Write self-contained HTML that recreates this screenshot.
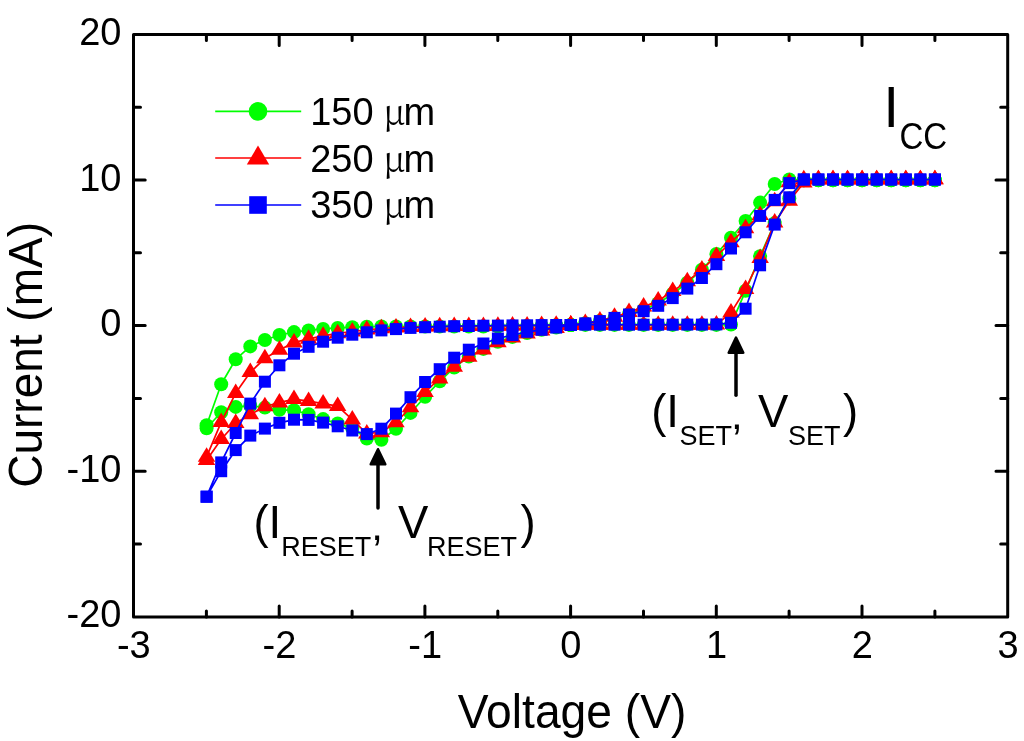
<!DOCTYPE html>
<html lang="en">
<head>
<meta charset="utf-8">
<title>I-V characteristics</title>
<style>html,body{margin:0;padding:0;background:#fff}body{width:1024px;height:741px;overflow:hidden}svg{display:block}</style>
</head>
<body>
<svg width="1024" height="741" viewBox="0 0 1024 741" font-family="'Liberation Sans', sans-serif" fill="#000">
<rect width="1024" height="741" fill="#fff"/>
<g id="series-150"><polyline points="570.8,325.0 585.3,324.9 599.9,324.9 614.5,324.9 629.0,324.9 643.6,324.9 658.2,324.9 672.7,324.9 687.3,324.9 701.9,324.9 716.4,324.9 731.0,324.6 745.6,290.8 760.1,256.2 774.7,223.1 789.3,198.4 803.8,180.2 818.4,180.2 833.0,180.2 847.5,180.2 862.1,180.2 876.7,180.2 891.2,180.2 905.8,180.2 920.4,180.2 934.9,180.2 934.9,180.2 920.4,180.2 905.8,180.2 891.2,180.2 876.7,180.2 862.1,180.2 847.5,180.2 833.0,180.2 818.4,180.2 803.8,180.2 789.3,179.5 774.7,184.0 760.1,202.6 745.6,221.0 731.0,237.7 716.4,253.9 701.9,269.7 687.3,282.8 672.7,293.7 658.2,303.2 643.6,309.7 629.0,313.9 614.5,318.0 599.9,320.9 585.3,323.3 570.8,325.0 570.8,325.0 556.2,327.6 541.6,329.8 527.1,333.0 512.5,336.9 497.9,341.7 483.4,348.9 468.8,356.6 454.2,367.6 439.7,381.3 425.1,396.7 410.5,412.9 396.0,428.7 381.4,439.7 366.8,438.5 352.3,428.3 337.7,423.5 323.1,419.1 308.6,414.3 294.0,410.3 279.4,409.8 264.9,407.6 250.3,405.8 235.7,406.9 221.2,412.3 206.6,428.2 206.6,425.2 221.2,384.2 235.7,359.3 250.3,346.4 264.9,340.0 279.4,335.0 294.0,332.1 308.6,330.4 323.1,328.9 337.7,327.9 352.3,327.2 366.8,326.7 381.4,326.5 396.0,326.5 410.5,326.5 425.1,326.5 439.7,326.5 454.2,326.5 468.8,326.5 483.4,326.5 497.9,326.5 512.5,326.2 527.1,325.9 541.6,325.6 556.2,325.3 570.8,325.0" fill="none" stroke="#00ff00" stroke-width="1.7" stroke-linejoin="round"/><g fill="#00ff00"><circle cx="570.8" cy="325.0" r="7"/><circle cx="585.3" cy="324.9" r="7"/><circle cx="599.9" cy="324.9" r="7"/><circle cx="614.5" cy="324.9" r="7"/><circle cx="629.0" cy="324.9" r="7"/><circle cx="643.6" cy="324.9" r="7"/><circle cx="658.2" cy="324.9" r="7"/><circle cx="672.7" cy="324.9" r="7"/><circle cx="687.3" cy="324.9" r="7"/><circle cx="701.9" cy="324.9" r="7"/><circle cx="716.4" cy="324.9" r="7"/><circle cx="731.0" cy="324.6" r="7"/><circle cx="745.6" cy="290.8" r="7"/><circle cx="760.1" cy="256.2" r="7"/><circle cx="774.7" cy="223.1" r="7"/><circle cx="789.3" cy="198.4" r="7"/><circle cx="803.8" cy="180.2" r="7"/><circle cx="818.4" cy="180.2" r="7"/><circle cx="833.0" cy="180.2" r="7"/><circle cx="847.5" cy="180.2" r="7"/><circle cx="862.1" cy="180.2" r="7"/><circle cx="876.7" cy="180.2" r="7"/><circle cx="891.2" cy="180.2" r="7"/><circle cx="905.8" cy="180.2" r="7"/><circle cx="920.4" cy="180.2" r="7"/><circle cx="934.9" cy="180.2" r="7"/><circle cx="934.9" cy="180.2" r="7"/><circle cx="920.4" cy="180.2" r="7"/><circle cx="905.8" cy="180.2" r="7"/><circle cx="891.2" cy="180.2" r="7"/><circle cx="876.7" cy="180.2" r="7"/><circle cx="862.1" cy="180.2" r="7"/><circle cx="847.5" cy="180.2" r="7"/><circle cx="833.0" cy="180.2" r="7"/><circle cx="818.4" cy="180.2" r="7"/><circle cx="803.8" cy="180.2" r="7"/><circle cx="789.3" cy="179.5" r="7"/><circle cx="774.7" cy="184.0" r="7"/><circle cx="760.1" cy="202.6" r="7"/><circle cx="745.6" cy="221.0" r="7"/><circle cx="731.0" cy="237.7" r="7"/><circle cx="716.4" cy="253.9" r="7"/><circle cx="701.9" cy="269.7" r="7"/><circle cx="687.3" cy="282.8" r="7"/><circle cx="672.7" cy="293.7" r="7"/><circle cx="658.2" cy="303.2" r="7"/><circle cx="643.6" cy="309.7" r="7"/><circle cx="629.0" cy="313.9" r="7"/><circle cx="614.5" cy="318.0" r="7"/><circle cx="599.9" cy="320.9" r="7"/><circle cx="585.3" cy="323.3" r="7"/><circle cx="570.8" cy="325.0" r="7"/><circle cx="570.8" cy="325.0" r="7"/><circle cx="556.2" cy="327.6" r="7"/><circle cx="541.6" cy="329.8" r="7"/><circle cx="527.1" cy="333.0" r="7"/><circle cx="512.5" cy="336.9" r="7"/><circle cx="497.9" cy="341.7" r="7"/><circle cx="483.4" cy="348.9" r="7"/><circle cx="468.8" cy="356.6" r="7"/><circle cx="454.2" cy="367.6" r="7"/><circle cx="439.7" cy="381.3" r="7"/><circle cx="425.1" cy="396.7" r="7"/><circle cx="410.5" cy="412.9" r="7"/><circle cx="396.0" cy="428.7" r="7"/><circle cx="381.4" cy="439.7" r="7"/><circle cx="366.8" cy="438.5" r="7"/><circle cx="352.3" cy="428.3" r="7"/><circle cx="337.7" cy="423.5" r="7"/><circle cx="323.1" cy="419.1" r="7"/><circle cx="308.6" cy="414.3" r="7"/><circle cx="294.0" cy="410.3" r="7"/><circle cx="279.4" cy="409.8" r="7"/><circle cx="264.9" cy="407.6" r="7"/><circle cx="250.3" cy="405.8" r="7"/><circle cx="235.7" cy="406.9" r="7"/><circle cx="221.2" cy="412.3" r="7"/><circle cx="206.6" cy="428.2" r="7"/><circle cx="206.6" cy="425.2" r="7"/><circle cx="221.2" cy="384.2" r="7"/><circle cx="235.7" cy="359.3" r="7"/><circle cx="250.3" cy="346.4" r="7"/><circle cx="264.9" cy="340.0" r="7"/><circle cx="279.4" cy="335.0" r="7"/><circle cx="294.0" cy="332.1" r="7"/><circle cx="308.6" cy="330.4" r="7"/><circle cx="323.1" cy="328.9" r="7"/><circle cx="337.7" cy="327.9" r="7"/><circle cx="352.3" cy="327.2" r="7"/><circle cx="366.8" cy="326.7" r="7"/><circle cx="381.4" cy="326.5" r="7"/><circle cx="396.0" cy="326.5" r="7"/><circle cx="410.5" cy="326.5" r="7"/><circle cx="425.1" cy="326.5" r="7"/><circle cx="439.7" cy="326.5" r="7"/><circle cx="454.2" cy="326.5" r="7"/><circle cx="468.8" cy="326.5" r="7"/><circle cx="483.4" cy="326.5" r="7"/><circle cx="497.9" cy="326.5" r="7"/><circle cx="512.5" cy="326.2" r="7"/><circle cx="527.1" cy="325.9" r="7"/><circle cx="541.6" cy="325.6" r="7"/><circle cx="556.2" cy="325.3" r="7"/><circle cx="570.8" cy="325.0" r="7"/></g></g>
<g id="series-250"><polyline points="570.8,325.0 585.3,325.0 599.9,325.0 614.5,325.0 629.0,325.0 643.6,325.0 658.2,325.0 672.7,325.0 687.3,325.0 701.9,325.0 716.4,324.7 731.0,312.6 745.6,289.2 760.1,258.1 774.7,222.7 789.3,200.9 803.8,182.7 818.4,179.5 833.0,179.5 847.5,179.5 862.1,179.5 876.7,179.5 891.2,179.5 905.8,179.5 920.4,179.5 934.9,179.5 934.9,179.5 920.4,179.5 905.8,179.5 891.2,179.5 876.7,179.5 862.1,179.5 847.5,179.5 833.0,179.5 818.4,179.5 803.8,179.5 789.3,182.4 774.7,201.3 760.1,215.1 745.6,228.4 731.0,242.4 716.4,256.0 701.9,269.7 687.3,281.4 672.7,291.1 658.2,300.7 643.6,306.8 629.0,312.2 614.5,317.0 599.9,320.6 585.3,323.1 570.8,325.0 570.8,325.0 556.2,328.1 541.6,330.5 527.1,333.7 512.5,337.7 497.9,342.5 483.4,349.6 468.8,357.0 454.2,366.9 439.7,378.5 425.1,392.1 410.5,407.5 396.0,422.5 381.4,432.4 366.8,433.5 352.3,419.6 337.7,406.2 323.1,403.6 308.6,401.2 294.0,399.2 279.4,402.6 264.9,406.5 250.3,414.5 235.7,423.2 221.2,439.2 206.6,460.3 206.6,456.8 221.2,422.2 235.7,393.1 250.3,372.3 264.9,358.3 279.4,349.9 294.0,342.6 308.6,338.8 323.1,335.9 337.7,333.4 352.3,331.5 366.8,329.8 381.4,328.5 396.0,327.6 410.5,327.0 425.1,326.7 439.7,326.5 454.2,326.3 468.8,326.2 483.4,326.0 497.9,325.9 512.5,325.7 527.1,325.6 541.6,325.3 556.2,325.0 570.8,325.0" fill="none" stroke="#ff0000" stroke-width="1.7" stroke-linejoin="round"/><g fill="#ff0000"><path d="M570.8 315.3L579.5 329.8L562.0 329.8Z"/><path d="M585.3 315.3L594.1 329.8L576.6 329.8Z"/><path d="M599.9 315.3L608.6 329.8L591.1 329.8Z"/><path d="M614.5 315.3L623.2 329.8L605.7 329.8Z"/><path d="M629.0 315.3L637.8 329.8L620.3 329.8Z"/><path d="M643.6 315.3L652.3 329.8L634.8 329.8Z"/><path d="M658.2 315.3L666.9 329.8L649.4 329.8Z"/><path d="M672.7 315.3L681.5 329.8L664.0 329.8Z"/><path d="M687.3 315.3L696.0 329.8L678.5 329.8Z"/><path d="M701.9 315.3L710.6 329.8L693.1 329.8Z"/><path d="M716.4 315.0L725.2 329.5L707.7 329.5Z"/><path d="M731.0 303.0L739.7 317.5L722.2 317.5Z"/><path d="M745.6 279.5L754.3 294.0L736.8 294.0Z"/><path d="M760.1 248.4L768.9 262.9L751.4 262.9Z"/><path d="M774.7 213.0L783.4 227.5L765.9 227.5Z"/><path d="M789.3 191.2L798.0 205.7L780.5 205.7Z"/><path d="M803.8 173.0L812.6 187.5L795.1 187.5Z"/><path d="M818.4 169.8L827.1 184.3L809.6 184.3Z"/><path d="M833.0 169.8L841.7 184.3L824.2 184.3Z"/><path d="M847.5 169.8L856.3 184.3L838.8 184.3Z"/><path d="M862.1 169.8L870.8 184.3L853.3 184.3Z"/><path d="M876.7 169.8L885.4 184.3L867.9 184.3Z"/><path d="M891.2 169.8L900.0 184.3L882.5 184.3Z"/><path d="M905.8 169.8L914.6 184.3L897.1 184.3Z"/><path d="M920.4 169.8L929.1 184.3L911.6 184.3Z"/><path d="M934.9 169.8L943.7 184.3L926.2 184.3Z"/><path d="M934.9 169.8L943.7 184.3L926.2 184.3Z"/><path d="M920.4 169.8L929.1 184.3L911.6 184.3Z"/><path d="M905.8 169.8L914.6 184.3L897.1 184.3Z"/><path d="M891.2 169.8L900.0 184.3L882.5 184.3Z"/><path d="M876.7 169.8L885.4 184.3L867.9 184.3Z"/><path d="M862.1 169.8L870.8 184.3L853.3 184.3Z"/><path d="M847.5 169.8L856.3 184.3L838.8 184.3Z"/><path d="M833.0 169.8L841.7 184.3L824.2 184.3Z"/><path d="M818.4 169.8L827.1 184.3L809.6 184.3Z"/><path d="M803.8 169.8L812.6 184.3L795.1 184.3Z"/><path d="M789.3 172.7L798.0 187.2L780.5 187.2Z"/><path d="M774.7 191.7L783.4 206.2L765.9 206.2Z"/><path d="M760.1 205.5L768.9 220.0L751.4 220.0Z"/><path d="M745.6 218.7L754.3 233.2L736.8 233.2Z"/><path d="M731.0 232.7L739.7 247.2L722.2 247.2Z"/><path d="M716.4 246.4L725.2 260.9L707.7 260.9Z"/><path d="M701.9 260.0L710.6 274.5L693.1 274.5Z"/><path d="M687.3 271.7L696.0 286.2L678.5 286.2Z"/><path d="M672.7 281.4L681.5 295.9L664.0 295.9Z"/><path d="M658.2 291.0L666.9 305.5L649.4 305.5Z"/><path d="M643.6 297.1L652.3 311.6L634.8 311.6Z"/><path d="M629.0 302.5L637.8 317.0L620.3 317.0Z"/><path d="M614.5 307.3L623.2 321.8L605.7 321.8Z"/><path d="M599.9 311.0L608.6 325.5L591.1 325.5Z"/><path d="M585.3 313.4L594.1 327.9L576.6 327.9Z"/><path d="M570.8 315.3L579.5 329.8L562.0 329.8Z"/><path d="M570.8 315.3L579.5 329.8L562.0 329.8Z"/><path d="M556.2 318.4L564.9 332.9L547.4 332.9Z"/><path d="M541.6 320.9L550.4 335.4L532.9 335.4Z"/><path d="M527.1 324.1L535.8 338.6L518.3 338.6Z"/><path d="M512.5 328.0L521.2 342.5L503.7 342.5Z"/><path d="M497.9 332.8L506.7 347.3L489.2 347.3Z"/><path d="M483.4 339.9L492.1 354.4L474.6 354.4Z"/><path d="M468.8 347.3L477.5 361.8L460.0 361.8Z"/><path d="M454.2 357.2L463.0 371.7L445.5 371.7Z"/><path d="M439.7 368.9L448.4 383.4L430.9 383.4Z"/><path d="M425.1 382.4L433.8 396.9L416.3 396.9Z"/><path d="M410.5 397.8L419.3 412.3L401.8 412.3Z"/><path d="M396.0 412.8L404.7 427.3L387.2 427.3Z"/><path d="M381.4 422.7L390.1 437.2L372.6 437.2Z"/><path d="M366.8 423.9L375.6 438.4L358.1 438.4Z"/><path d="M352.3 409.9L361.0 424.4L343.5 424.4Z"/><path d="M337.7 396.5L346.4 411.0L328.9 411.0Z"/><path d="M323.1 393.9L331.9 408.4L314.4 408.4Z"/><path d="M308.6 391.6L317.3 406.1L299.8 406.1Z"/><path d="M294.0 389.5L302.7 404.0L285.2 404.0Z"/><path d="M279.4 392.9L288.2 407.4L270.7 407.4Z"/><path d="M264.9 396.8L273.6 411.3L256.1 411.3Z"/><path d="M250.3 404.8L259.0 419.3L241.5 419.3Z"/><path d="M235.7 413.5L244.5 428.0L227.0 428.0Z"/><path d="M221.2 429.6L229.9 444.1L212.4 444.1Z"/><path d="M206.6 450.6L215.3 465.1L197.8 465.1Z"/><path d="M206.6 447.2L215.3 461.7L197.8 461.7Z"/><path d="M221.2 412.5L229.9 427.0L212.4 427.0Z"/><path d="M235.7 383.4L244.5 397.9L227.0 397.9Z"/><path d="M250.3 362.6L259.0 377.1L241.5 377.1Z"/><path d="M264.9 348.7L273.6 363.2L256.1 363.2Z"/><path d="M279.4 340.2L288.2 354.7L270.7 354.7Z"/><path d="M294.0 332.9L302.7 347.4L285.2 347.4Z"/><path d="M308.6 329.2L317.3 343.7L299.8 343.7Z"/><path d="M323.1 326.2L331.9 340.7L314.4 340.7Z"/><path d="M337.7 323.8L346.4 338.3L328.9 338.3Z"/><path d="M352.3 321.9L361.0 336.4L343.5 336.4Z"/><path d="M366.8 320.1L375.6 334.6L358.1 334.6Z"/><path d="M381.4 318.8L390.1 333.3L372.6 333.3Z"/><path d="M396.0 318.0L404.7 332.5L387.2 332.5Z"/><path d="M410.5 317.4L419.3 331.9L401.8 331.9Z"/><path d="M425.1 317.1L433.8 331.6L416.3 331.6Z"/><path d="M439.7 316.8L448.4 331.3L430.9 331.3Z"/><path d="M454.2 316.6L463.0 331.1L445.5 331.1Z"/><path d="M468.8 316.5L477.5 331.0L460.0 331.0Z"/><path d="M483.4 316.4L492.1 330.9L474.6 330.9Z"/><path d="M497.9 316.2L506.7 330.7L489.2 330.7Z"/><path d="M512.5 316.1L521.2 330.6L503.7 330.6Z"/><path d="M527.1 315.9L535.8 330.4L518.3 330.4Z"/><path d="M541.6 315.6L550.4 330.1L532.9 330.1Z"/><path d="M556.2 315.3L564.9 329.8L547.4 329.8Z"/><path d="M570.8 315.3L579.5 329.8L562.0 329.8Z"/></g></g>
<g id="series-350"><polyline points="570.8,325.0 585.3,324.7 599.9,324.7 614.5,324.7 629.0,324.7 643.6,324.7 658.2,324.7 672.7,324.7 687.3,324.6 701.9,324.6 716.4,324.4 731.0,322.8 745.6,308.7 760.1,265.3 774.7,224.6 789.3,197.3 803.8,179.5 818.4,179.5 833.0,179.5 847.5,179.5 862.1,179.5 876.7,179.5 891.2,179.5 905.8,179.5 920.4,179.5 934.9,179.5 934.9,179.5 920.4,179.5 905.8,179.5 891.2,179.5 876.7,179.5 862.1,179.5 847.5,179.5 833.0,179.5 818.4,179.5 803.8,179.5 789.3,183.1 774.7,199.9 760.1,215.9 745.6,232.3 731.0,248.5 716.4,264.2 701.9,278.0 687.3,288.6 672.7,298.1 658.2,305.8 643.6,311.2 629.0,314.5 614.5,317.9 599.9,321.1 585.3,323.3 570.8,325.0 570.8,325.0 556.2,327.6 541.6,329.8 527.1,331.8 512.5,335.0 497.9,338.5 483.4,343.5 468.8,349.7 454.2,357.7 439.7,369.2 425.1,382.0 410.5,397.2 396.0,413.6 381.4,428.7 366.8,434.1 352.3,430.5 337.7,426.3 323.1,422.6 308.6,419.9 294.0,419.7 279.4,422.8 264.9,428.6 250.3,435.6 235.7,450.1 221.2,471.2 206.6,496.7 206.6,496.7 221.2,462.4 235.7,433.0 250.3,403.6 264.9,381.7 279.4,365.3 294.0,353.7 308.6,346.8 323.1,341.7 337.7,337.7 352.3,334.7 366.8,332.3 381.4,330.4 396.0,329.1 410.5,327.9 425.1,327.2 439.7,326.7 454.2,326.2 468.8,326.0 483.4,325.7 497.9,325.6 512.5,325.4 527.1,325.3 541.6,325.1 556.2,325.0 570.8,325.0" fill="none" stroke="#0000ff" stroke-width="1.7" stroke-linejoin="round"/><g fill="#0000ff"><rect x="564.8" y="319.0" width="12" height="12"/><rect x="579.3" y="318.7" width="12" height="12"/><rect x="593.9" y="318.7" width="12" height="12"/><rect x="608.5" y="318.7" width="12" height="12"/><rect x="623.0" y="318.7" width="12" height="12"/><rect x="637.6" y="318.7" width="12" height="12"/><rect x="652.2" y="318.7" width="12" height="12"/><rect x="666.7" y="318.7" width="12" height="12"/><rect x="681.3" y="318.6" width="12" height="12"/><rect x="695.9" y="318.6" width="12" height="12"/><rect x="710.4" y="318.4" width="12" height="12"/><rect x="725.0" y="316.8" width="12" height="12"/><rect x="739.6" y="302.7" width="12" height="12"/><rect x="754.1" y="259.3" width="12" height="12"/><rect x="768.7" y="218.6" width="12" height="12"/><rect x="783.3" y="191.3" width="12" height="12"/><rect x="797.8" y="173.5" width="12" height="12"/><rect x="812.4" y="173.5" width="12" height="12"/><rect x="827.0" y="173.5" width="12" height="12"/><rect x="841.5" y="173.5" width="12" height="12"/><rect x="856.1" y="173.5" width="12" height="12"/><rect x="870.7" y="173.5" width="12" height="12"/><rect x="885.2" y="173.5" width="12" height="12"/><rect x="899.8" y="173.5" width="12" height="12"/><rect x="914.4" y="173.5" width="12" height="12"/><rect x="928.9" y="173.5" width="12" height="12"/><rect x="928.9" y="173.5" width="12" height="12"/><rect x="914.4" y="173.5" width="12" height="12"/><rect x="899.8" y="173.5" width="12" height="12"/><rect x="885.2" y="173.5" width="12" height="12"/><rect x="870.7" y="173.5" width="12" height="12"/><rect x="856.1" y="173.5" width="12" height="12"/><rect x="841.5" y="173.5" width="12" height="12"/><rect x="827.0" y="173.5" width="12" height="12"/><rect x="812.4" y="173.5" width="12" height="12"/><rect x="797.8" y="173.5" width="12" height="12"/><rect x="783.3" y="177.1" width="12" height="12"/><rect x="768.7" y="193.9" width="12" height="12"/><rect x="754.1" y="209.9" width="12" height="12"/><rect x="739.6" y="226.3" width="12" height="12"/><rect x="725.0" y="242.5" width="12" height="12"/><rect x="710.4" y="258.2" width="12" height="12"/><rect x="695.9" y="272.0" width="12" height="12"/><rect x="681.3" y="282.6" width="12" height="12"/><rect x="666.7" y="292.1" width="12" height="12"/><rect x="652.2" y="299.8" width="12" height="12"/><rect x="637.6" y="305.2" width="12" height="12"/><rect x="623.0" y="308.5" width="12" height="12"/><rect x="608.5" y="311.9" width="12" height="12"/><rect x="593.9" y="315.1" width="12" height="12"/><rect x="579.3" y="317.3" width="12" height="12"/><rect x="564.8" y="319.0" width="12" height="12"/><rect x="564.8" y="319.0" width="12" height="12"/><rect x="550.2" y="321.6" width="12" height="12"/><rect x="535.6" y="323.8" width="12" height="12"/><rect x="521.1" y="325.8" width="12" height="12"/><rect x="506.5" y="329.0" width="12" height="12"/><rect x="491.9" y="332.5" width="12" height="12"/><rect x="477.4" y="337.5" width="12" height="12"/><rect x="462.8" y="343.7" width="12" height="12"/><rect x="448.2" y="351.7" width="12" height="12"/><rect x="433.7" y="363.2" width="12" height="12"/><rect x="419.1" y="376.0" width="12" height="12"/><rect x="404.5" y="391.2" width="12" height="12"/><rect x="390.0" y="407.6" width="12" height="12"/><rect x="375.4" y="422.7" width="12" height="12"/><rect x="360.8" y="428.1" width="12" height="12"/><rect x="346.3" y="424.5" width="12" height="12"/><rect x="331.7" y="420.3" width="12" height="12"/><rect x="317.1" y="416.6" width="12" height="12"/><rect x="302.6" y="413.9" width="12" height="12"/><rect x="288.0" y="413.7" width="12" height="12"/><rect x="273.4" y="416.8" width="12" height="12"/><rect x="258.9" y="422.6" width="12" height="12"/><rect x="244.3" y="429.6" width="12" height="12"/><rect x="229.7" y="444.1" width="12" height="12"/><rect x="215.2" y="465.2" width="12" height="12"/><rect x="200.6" y="490.7" width="12" height="12"/><rect x="200.6" y="490.7" width="12" height="12"/><rect x="215.2" y="456.4" width="12" height="12"/><rect x="229.7" y="427.0" width="12" height="12"/><rect x="244.3" y="397.6" width="12" height="12"/><rect x="258.9" y="375.7" width="12" height="12"/><rect x="273.4" y="359.3" width="12" height="12"/><rect x="288.0" y="347.7" width="12" height="12"/><rect x="302.6" y="340.8" width="12" height="12"/><rect x="317.1" y="335.7" width="12" height="12"/><rect x="331.7" y="331.7" width="12" height="12"/><rect x="346.3" y="328.7" width="12" height="12"/><rect x="360.8" y="326.3" width="12" height="12"/><rect x="375.4" y="324.4" width="12" height="12"/><rect x="390.0" y="323.1" width="12" height="12"/><rect x="404.5" y="321.9" width="12" height="12"/><rect x="419.1" y="321.2" width="12" height="12"/><rect x="433.7" y="320.7" width="12" height="12"/><rect x="448.2" y="320.2" width="12" height="12"/><rect x="462.8" y="320.0" width="12" height="12"/><rect x="477.4" y="319.7" width="12" height="12"/><rect x="491.9" y="319.6" width="12" height="12"/><rect x="506.5" y="319.4" width="12" height="12"/><rect x="521.1" y="319.3" width="12" height="12"/><rect x="535.6" y="319.1" width="12" height="12"/><rect x="550.2" y="319.0" width="12" height="12"/><rect x="564.8" y="319.0" width="12" height="12"/></g></g>
<g stroke="#000" stroke-width="3" fill="none" stroke-linecap="round" stroke-linejoin="round">
<rect x="133.5" y="34.4" width="874.2" height="582.5"/>
<path d="M206.4 34.4v6M206.4 616.9v-6M279.2 34.4v11M279.2 616.9v-11M352.1 34.4v6M352.1 616.9v-6M424.9 34.4v11M424.9 616.9v-11M497.8 34.4v6M497.8 616.9v-6M570.6 34.4v11M570.6 616.9v-11M643.5 34.4v6M643.5 616.9v-6M716.3 34.4v11M716.3 616.9v-11M789.1 34.4v6M789.1 616.9v-6M862.0 34.4v11M862.0 616.9v-11M934.9 34.4v6M934.9 616.9v-6M133.5 544.1h7M1007.7 544.1h-7M133.5 471.3h11.7M1007.7 471.3h-11.7M133.5 398.5h7M1007.7 398.5h-7M133.5 325.6h11.7M1007.7 325.6h-11.7M133.5 252.8h7M1007.7 252.8h-7M133.5 180.0h11.7M1007.7 180.0h-11.7M133.5 107.2h7M1007.7 107.2h-7"/>
</g>
<text transform="translate(133.8 658) scale(1 1.03)" font-size="38" text-anchor="middle">-3</text>
<text transform="translate(279.5 658) scale(1 1.03)" font-size="38" text-anchor="middle">-2</text>
<text transform="translate(425.2 658) scale(1 1.03)" font-size="38" text-anchor="middle">-1</text>
<text transform="translate(570.9 658) scale(1 1.03)" font-size="38" text-anchor="middle">0</text>
<text transform="translate(716.6 658) scale(1 1.03)" font-size="38" text-anchor="middle">1</text>
<text transform="translate(862.3 658) scale(1 1.03)" font-size="38" text-anchor="middle">2</text>
<text transform="translate(1008.0 658) scale(1 1.03)" font-size="38" text-anchor="middle">3</text>
<text transform="translate(121.5 627.4) scale(1 1.03)" font-size="38" text-anchor="end">-20</text>
<text transform="translate(121.5 481.8) scale(1 1.03)" font-size="38" text-anchor="end">-10</text>
<text transform="translate(121.5 336.1) scale(1 1.03)" font-size="38" text-anchor="end">0</text>
<text transform="translate(121.5 190.5) scale(1 1.03)" font-size="38" text-anchor="end">10</text>
<text transform="translate(121.5 44.9) scale(1 1.03)" font-size="38" text-anchor="end">20</text>
<text transform="translate(572.1 728) scale(1 1.03)" font-size="46.2" text-anchor="middle">Voltage (V)</text>
<text transform="translate(41.8 354.9) rotate(-90) scale(1 1.03)" font-size="46" text-anchor="middle">Current (mA)</text>
<path d="M215.2 111.4H301.2" stroke="#00ff00" stroke-width="1.8" fill="none"/>
<circle cx="258" cy="111.4" r="9.3" fill="#00ff00"/>
<text transform="translate(310.2 125.0) scale(1 1.03)" font-size="38">150 <tspan x="73.1" font-size="35" font-family="'Noto Serif CJK SC', 'Liberation Serif', serif">μ</tspan><tspan x="93.2">m</tspan></text>
<path d="M215.2 158.0H301.2" stroke="#ff0000" stroke-width="1.7" fill="none"/>
<path d="M258 145.6L269.2 164.5L246.8 164.5Z" fill="#ff0000"/>
<text transform="translate(310.2 171.7) scale(1 1.03)" font-size="38">250 <tspan x="73.1" font-size="35" font-family="'Noto Serif CJK SC', 'Liberation Serif', serif">μ</tspan><tspan x="93.2">m</tspan></text>
<path d="M215.2 205.0H301.2" stroke="#0000ff" stroke-width="1.4" fill="none"/>
<rect x="249.2" y="196.2" width="17.6" height="17.6" fill="#0000ff"/>
<text transform="translate(310.2 218.4) scale(1 1.03)" font-size="38">350 <tspan x="73.1" font-size="35" font-family="'Noto Serif CJK SC', 'Liberation Serif', serif">μ</tspan><tspan x="93.2">m</tspan></text>
<text transform="translate(883.5 126.7) scale(1 1.04)" font-size="55.6">I</text>
<text transform="translate(899.5 149.0) scale(1 1.13)" font-size="33">CC</text>
<text transform="translate(651.3 427.2)" font-size="45.5">(</text>
<text transform="translate(666.3 427.2) scale(1 1.02)" font-size="45.5">I</text>
<text transform="translate(679.5 445.0) scale(1 1.03)" font-size="27">SET</text>
<text transform="translate(731.1 428.79999999999995)" font-size="42">,</text>
<text transform="translate(757.9 427.2) scale(1 1.02)" font-size="45.5">V</text>
<text transform="translate(788.1 445.0) scale(1 1.03)" font-size="27">SET</text>
<text transform="translate(842.9 427.2)" font-size="45.5">)</text>
<text transform="translate(253.4 538.2)" font-size="45.5">(</text>
<text transform="translate(268.5 538.2) scale(1 1.02)" font-size="45.5">I</text>
<text transform="translate(281.2 555.8) scale(1 1.03)" font-size="27">RESET</text>
<text transform="translate(371.2 539.9)" font-size="42">,</text>
<text transform="translate(397.9 538.2) scale(1 1.02)" font-size="45.5">V</text>
<text transform="translate(427.1 555.8) scale(1 1.03)" font-size="27">RESET</text>
<text transform="translate(520.5 538.2)" font-size="45.5">)</text>
<g stroke="#000" stroke-linecap="round" stroke-linejoin="round"><path d="M378.0 508.0V464.3" stroke-width="3.5" fill="none"/><path d="M378.0 449.2L385.3 464.3L370.7 464.3Z" stroke-width="2.5" fill="#000"/></g>
<g stroke="#000" stroke-linecap="round" stroke-linejoin="round"><path d="M736.0 395.3V352.7" stroke-width="3.5" fill="none"/><path d="M736.0 337.6L743.3 352.7L728.7 352.7Z" stroke-width="2.5" fill="#000"/></g>
</svg>
</body>
</html>
